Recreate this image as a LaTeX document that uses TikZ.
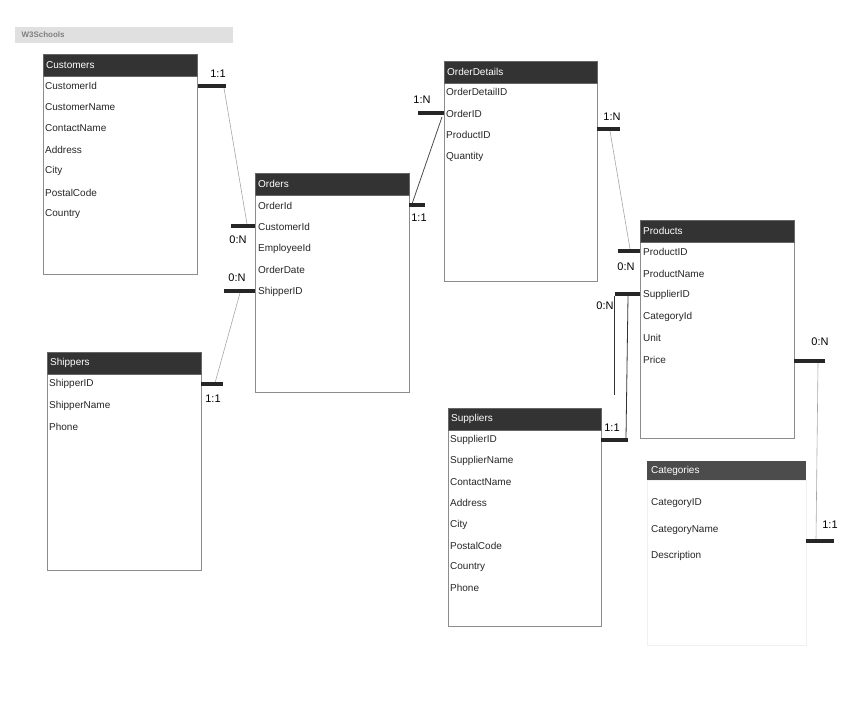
\documentclass[tikz,border=0pt]{standalone}
\usepackage{fontspec}
\setmainfont{Liberation Sans}
\begin{document}
\begin{tikzpicture}[x=1pt,y=-1pt,
  hdr/.style={fill=black!80,draw=black!60},
  body/.style={draw=black!45,fill=white},
  fld/.style={anchor=west,font=\fontsize{10}{11}\selectfont,inner sep=0pt,text=black!85},
  htxt/.style={anchor=west,font=\fontsize{10}{11}\selectfont,text=white,inner sep=0pt},
  bar/.style={line width=4pt,black!85},
  conn/.style={black!35,line width=0.6pt},
  hand/.style={font=\fontsize{11}{12}\selectfont,inner sep=0pt}]
\useasboundingbox (0,0) rectangle (859,725);
\fill[black!12] (15,27) rectangle (233,43);
\node[anchor=west,font=\bfseries\fontsize{8}{9}\selectfont,text=black!50] (w3) at (18,35) {W3Schools};
\newcommand\tbl[7]{%
  \draw[body] (#2,#5) rectangle (#4,#6);
  \fill[hdr] (#2,#3) rectangle (#4,#5);
  \node[htxt] (#1) at (#2+3,{(#3+#5)/2}) {#7};}
\tbl{cust}{43}{54}{197}{76}{274}{Customers}
\foreach \t/\y in {CustomerId/86,CustomerName/107,ContactName/128,Address/150,City/171,PostalCode/193,Country/214}
  \node[fld] at (45,\y) {\t};
\tbl{ord}{255}{173}{409}{195}{392}{Orders}
\foreach \t/\y in {OrderId/206,CustomerId/227,EmployeeId/249,OrderDate/270,ShipperID/292}
  \node[fld] at (258,\y) {\t};
\tbl{od}{444}{61}{597}{83}{281}{OrderDetails}
\foreach \t/\y in {OrderDetailID/92,OrderID/114,ProductID/135,Quantity/157}
  \node[fld] at (446,\y) {\t};
\tbl{prod}{640}{220}{794}{242}{438}{Products}
\foreach \t/\y in {ProductID/252,ProductName/274,SupplierID/295,CategoryId/317,Unit/338,Price/360}
  \node[fld] at (643,\y) {\t};
\tbl{ship}{47}{352}{201}{374}{570}{Shippers}
\foreach \t/\y in {ShipperID/384,ShipperName/406,Phone/427}
  \node[fld] at (49,\y) {\t};
\tbl{supp}{448}{408}{601}{430}{626}{Suppliers}
\foreach \t/\y in {SupplierID/440,SupplierName/461,ContactName/482,Address/503,City/525,PostalCode/546,Country/567,Phone/588}
  \node[fld] at (450,\y) {\t};
\draw[black!6] (647,480) rectangle (806,645);
\fill[black!70] (647,461) rectangle (806,480);
\node[htxt] (cat) at (651,470.5) {Categories};
\foreach \t/\y in {CategoryID/503,CategoryName/530,Description/556}
  \node[fld] at (651,\y) {\t};
\coordinate (a1) at (224,88); \coordinate (a2) at (247,224);
\draw[conn] (a1) -- (a2);
\draw[bar] (198,86) -- (226,86); \draw[bar] (231,226) -- (255,226);
\node[hand] (l1) at (218,74) {1:1}; \node[hand] (l2) at (238,240) {0:N};
\coordinate (b1) at (240,293); \coordinate (b2) at (215,383);
\draw[conn] (b1) -- (b2);
\draw[bar] (224,291) -- (255,291); \draw[bar] (201,384) -- (223,384);
\node[hand] (l3) at (237,278) {0:N}; \node[hand] (l4) at (213,399) {1:1};
\coordinate (c1) at (442,117); \coordinate (c2) at (412,204);
\draw[black!70,line width=0.8pt] (c1) -- (c2);
\draw[bar] (418,113) -- (444,113); \draw[bar] (409,205) -- (425,205);
\node[hand] (l5) at (422,100) {1:N}; \node[hand] (l6) at (419,218) {1:1};
\coordinate (d1) at (610,131); \coordinate (d2) at (630,249);
\draw[conn] (d1) -- (d2);
\draw[bar] (597,129) -- (620,129); \draw[bar] (618,251) -- (640,251);
\node[hand] (l7) at (612,117) {1:N}; \node[hand] (l8) at (626,267) {0:N};
\coordinate (e1) at (628,296); \coordinate (e2) at (626,438);
\draw[black!80,line width=0.8pt] (e1) -- (e2);
\draw[black!80,line width=0.8pt] (614,296) -- (614,395);
\draw[bar] (615,294) -- (640,294); \draw[bar] (601,440) -- (628,440);
\node[hand] (l9) at (605,306) {0:N}; \node[hand] (l10) at (612,428) {1:1};
\coordinate (f1) at (818,363); \coordinate (f2) at (816,539);
\draw[conn] (f1) -- (f2);
\draw[bar] (794,361) -- (825,361); \draw[bar] (806,541) -- (834,541);
\node[hand] (l11) at (820,342) {0:N}; \node[hand] (l12) at (830,525) {1:1};
\end{tikzpicture}
\end{document}
